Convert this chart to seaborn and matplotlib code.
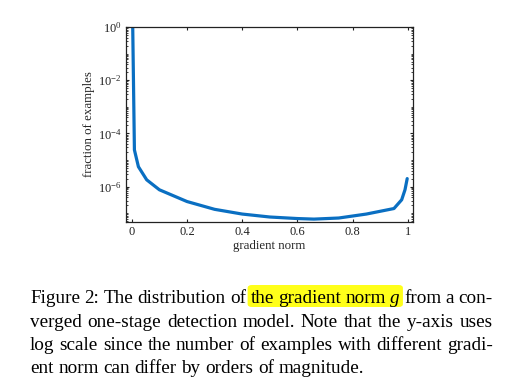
import numpy as np
import matplotlib
matplotlib.use("Agg")
import matplotlib.pyplot as plt
import matplotlib.ticker as mticker
from matplotlib.patches import FancyBboxPatch
import pandas as pd
import seaborn as sns

# data
grad_norm = [0.003, 0.0095, 0.024, 0.054, 0.10, 0.20, 0.30, 0.40, 0.50,
             0.60, 0.66, 0.75, 0.85, 0.95, 0.978, 0.99, 0.998]
fraction = [2.0, 2.4e-5, 5.6e-6, 1.8e-6, 7.6e-7, 2.75e-7, 1.4e-7, 9.3e-8, 7.2e-8,
            6.3e-8, 6.0e-8, 6.6e-8, 9.3e-8, 1.5e-7, 3.2e-7, 7.6e-7, 2.0e-6]
y_ticks = [1e-6, 1e-4, 1e-2, 1e0]
x_ticks = [0, 0.2, 0.4, 0.6, 0.8, 1]
x_tick_labels = ["0", "0.2", "0.4", "0.6", "0.8", "1"]

caption_lines = [
    "Figure 2: The distribution of the gradient norm g from a con-",
    "verged one-stage detection model. Note that the y-axis uses",
    "log scale since the number of examples with different gradi-",
    "ent norm can differ by orders of magnitude.",
]

df = pd.DataFrame({"gradient norm": grad_norm, "fraction": fraction})

sns.set_style("ticks")
plt.rcParams["font.family"] = ["Liberation Serif", "DejaVu Serif"]
plt.rcParams["mathtext.fontset"] = "custom"
plt.rcParams["mathtext.rm"] = "Liberation Serif"
plt.rcParams["mathtext.it"] = "Liberation Serif:italic"

W, H = 518, 384
fig = plt.figure(figsize=(W / 100, H / 100), dpi=100)
ax = fig.add_axes([0.2427, 0.4219, 0.5546, 0.5078])

sns.lineplot(data=df, x="gradient norm", y="fraction", ax=ax,
             color="#0a6fc2", linewidth=2.3, sort=False, estimator=None)

ax.set_yscale("log")
ax.set_xlim(-0.022, 1.019)
ax.set_ylim(10 ** -7.33, 1)
ax.yaxis.set_major_locator(mticker.FixedLocator(y_ticks))
ax.yaxis.set_major_formatter(mticker.LogFormatterMathtext())
ax.yaxis.set_minor_locator(mticker.LogLocator(base=10, subs=np.arange(1, 10), numticks=30))
ax.yaxis.set_minor_formatter(mticker.NullFormatter())
ax.set_xticks(x_ticks)
ax.set_xticklabels(x_tick_labels)

for sp in ax.spines.values():
    sp.set_visible(True)
    sp.set_linewidth(0.9)
    sp.set_color("#222222")
ax.tick_params(which="both", direction="in", top=True, right=True,
               labelsize=9, colors="#222222", pad=3)
ax.tick_params(which="major", length=2.5, width=0.8)
ax.tick_params(which="minor", length=1.5, width=0.6)

ax.set_xlabel("gradient norm", fontsize=9.3, labelpad=1)
ax.set_ylabel("fraction of examples", fontsize=9.3, labelpad=2)

# caption, justified word by word
renderer = fig.canvas.get_renderer()
x_left, x_right = 30, 493
baselines = [303, 327, 350, 373]
fs = 13.8


def width_of(t):
    return t.get_window_extent(renderer).width


probe_a = fig.text(0, 0, "a a", fontsize=fs)
probe_b = fig.text(0, 0, "aa", fontsize=fs)
space_w = width_of(probe_a) - width_of(probe_b)
probe_a.remove()
probe_b.remove()

placed = []
for i, line in enumerate(caption_lines):
    words = line.split(" ")
    texts = []
    for w in words:
        style = "italic" if (i == 0 and w == "g") else "normal"
        texts.append(fig.text(0, 1 - baselines[i] / H, w, fontsize=fs,
                              style=style, va="baseline", ha="left", color="black"))
    widths = [width_of(t) for t in texts]
    if i < len(caption_lines) - 1:
        gap = (x_right - x_left - sum(widths)) / (len(words) - 1)
    else:
        gap = space_w
    x = x_left
    spans = []
    for t, w in zip(texts, widths):
        t.set_x(x / W)
        spans.append((x, x + w))
        x += w + gap
    placed.append((words, spans))

# highlight on "the gradient norm g"
words, spans = placed[0]
start = spans[5][0] - 3
end = spans[8][1] + 3
hl = FancyBboxPatch((start / W, 1 - 307 / H), (end - start) / W, 22 / H,
                    boxstyle="round,pad=0,rounding_size=0.008",
                    transform=fig.transFigure, facecolor="#ffff1a",
                    edgecolor="none", zorder=-1)
fig.patches.append(hl)

fig.savefig("out.png", dpi=100)
